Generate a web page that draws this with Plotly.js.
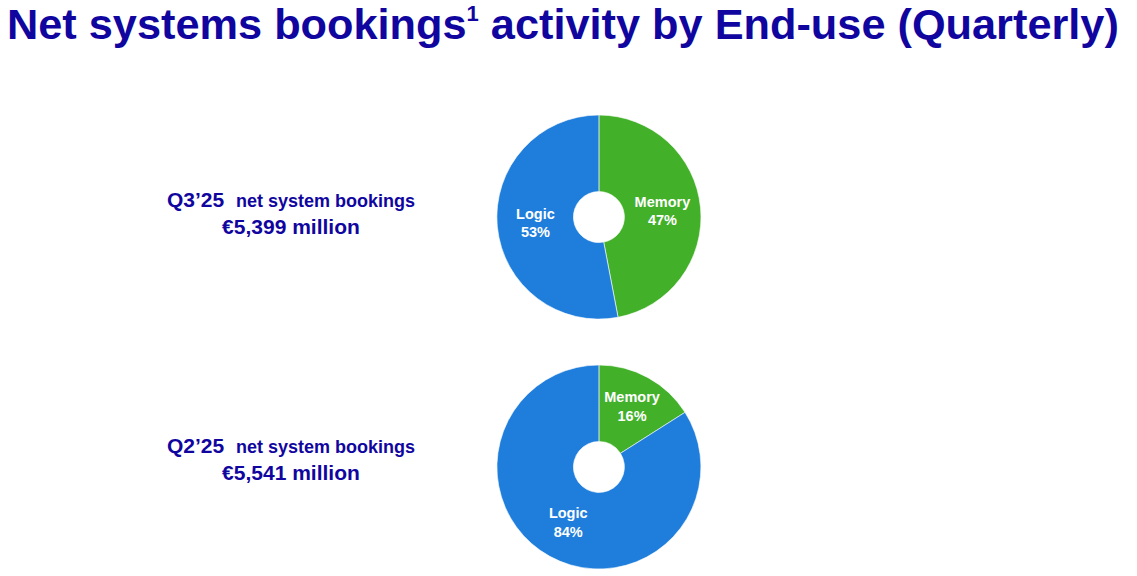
<!DOCTYPE html>
<html>
<head>
<meta charset="utf-8">
<script src="https://cdn.plot.ly/plotly-3.0.1.min.js"></script>
<style>html,body{margin:0;padding:0;background:#fff;}#chart{width:1137px;height:576px;}</style>
</head>
<body>
<div id="chart"></div>
<script>
const segments = ["Memory", "Logic"];
const q3Values = [47, 53];
const q2Values = [16, 84];
const quarterLabels = ["Q3’25", "Q2’25"];
const bookingTotals = ["€5,399 million", "€5,541 million"];
const segmentColors = ["#43B02A", "#1F7EDB"];
const navy = "#10069F";
const fontFam = "Liberation Sans, Arial, sans-serif";

function pieTrace(values, ydom) {
  return {
    type: "pie",
    labels: segments,
    values: values,
    sort: false,
    direction: "clockwise",
    rotation: 0,
    hole: 0.25,
    domain: {x: [0.437, 0.6165], y: ydom},
    marker: {colors: segmentColors, line: {color: "#ffffff", width: 0.6}},
    texttemplate: "<b>%{label}</b><br><b>%{value}%</b>",
    textposition: "inside",
    insidetextorientation: "horizontal",
    textfont: {family: fontFam, size: 14.5, color: "#ffffff"},
    showlegend: false,
    hoverinfo: "label+value"
  };
}

const data = [
  pieTrace(q3Values, [0.446, 0.8003]),
  pieTrace(q2Values, [0.0122, 0.3663])
];

function leftLabel(i, y) {
  return {
    xref: "paper", yref: "paper", x: 291/1137, y: y,
    xanchor: "center", yanchor: "middle", showarrow: false, align: "center",
    text: "<b>" + quarterLabels[i] + "&nbsp;&nbsp;<span style='font-size:18px'>net system bookings</span></b><br><b>" + bookingTotals[i] + "</b>",
    font: {family: fontFam, size: 21, color: navy}
  };
}

const layout = {
  width: 1137, height: 576,
  margin: {l: 0, r: 0, t: 0, b: 0},
  paper_bgcolor: "#ffffff",
  plot_bgcolor: "#ffffff",
  title: {
    text: "<b>Net systems bookings<sup><span style='font-size:22px'>1</span></sup> activity by End-use (Quarterly)</b>",
    x: 7/1137, xanchor: "left", xref: "paper",
    y: 1 - 24/576, yanchor: "middle", yref: "paper",
    font: {family: fontFam, size: 43.3, color: navy}
  },
  annotations: [
    leftLabel(0, 1 - 213/576),
    leftLabel(1, 1 - 459/576)
  ]
};

Plotly.newPlot("chart", data, layout, {displayModeBar: false, staticPlot: true});
</script>
</body>
</html>
